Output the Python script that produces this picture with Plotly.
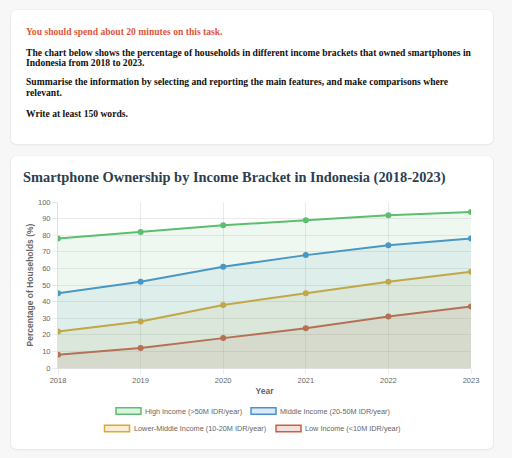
import plotly.graph_objects as go

years = [2018, 2019, 2020, 2021, 2022, 2023]
high_income = [78, 82, 86, 89, 92, 94]
middle_income = [45, 52, 61, 68, 74, 78]
lower_middle_income = [22, 28, 38, 45, 52, 58]
low_income = [8, 12, 18, 24, 31, 37]

series_names = [
    "High Income (>50M IDR/year)",
    "Middle Income (20-50M IDR/year)",
    "Lower-Middle Income (10-20M IDR/year)",
    "Low Income (<10M IDR/year)",
]
series_values = [high_income, middle_income, lower_middle_income, low_income]
line_colors = ["rgb(92,190,110)", "rgb(72,147,205)", "rgb(222,168,52)", "rgb(203,94,70)"]
fill_colors = ["rgba(92,190,110,0.10)", "rgba(72,147,205,0.10)", "rgba(222,168,52,0.10)", "rgba(203,94,70,0.10)"]

W, H = 512, 458
L, R, T, B = 58, 41, 202, 90
PW, PH = W - L - R, H - T - B


def px(x):
    return (x - L) / PW


def py(y):
    return (H - B - y) / PH


def rrect(x0, y0, x1, y1, r):
    def P(x, y):
        return f"{px(x):.5f},{py(y):.5f}"
    s = f"M {P(x0 + r, y0)} L {P(x1 - r, y0)} Q {P(x1, y0)} {P(x1, y0 + r)} "
    s += f"L {P(x1, y1 - r)} Q {P(x1, y1)} {P(x1 - r, y1)} "
    s += f"L {P(x0 + r, y1)} Q {P(x0, y1)} {P(x0, y1 - r)} "
    s += f"L {P(x0, y0 + r)} Q {P(x0, y0)} {P(x0 + r, y0)} Z"
    return s


fig = go.Figure()

for name, vals, lc, fc in reversed(list(zip(series_names, series_values, line_colors, fill_colors))):
    fig.add_trace(go.Scatter(
        x=years, y=vals, name=name, mode="lines+markers",
        line=dict(color=lc, width=2),
        marker=dict(color=lc, size=6),
        fill="tozeroy", fillcolor=fc,
        showlegend=False,
    ))

shapes = []
for (x0, y0, x1, y1) in [(11, 10, 493, 144), (11, 156, 493, 449)]:
    shapes.append(dict(type="path", path=rrect(x0 - 1, y0 - 0.5, x1 + 1, y1 + 1.5, 7), xref="paper", yref="paper",
                       fillcolor="rgba(0,0,0,0.05)", line=dict(width=0), layer="below"))
    shapes.append(dict(type="path", path=rrect(x0, y0, x1, y1, 6), xref="paper", yref="paper",
                       fillcolor="white", line=dict(width=0), layer="below"))

annotations = []
serif = "Liberation Serif"
sans = "Liberation Sans"

annotations.append(dict(text="<b>You should spend about 20 minutes on this task.</b>", x=px(24), y=py(31),
                        xref="paper", yref="paper", xanchor="left", yanchor="middle", showarrow=False,
                        font=dict(family=serif, size=9.6, color="#e0583a")))
body_lines = [
    ("The chart below shows the percentage of households in different income brackets that owned smartphones in", 52),
    ("Indonesia from 2018 to 2023.", 62.5),
    ("Summarise the information by selecting and reporting the main features, and make comparisons where", 82),
    ("relevant.", 92.5),
    ("Write at least 150 words.", 113.5),
]
for txt, yy in body_lines:
    annotations.append(dict(text=f"<b>{txt}</b>", x=px(24), y=py(yy), xref="paper", yref="paper",
                            xanchor="left", yanchor="middle", showarrow=False,
                            font=dict(family=serif, size=9.6, color="#111111")))

annotations.append(dict(text="<b>Smartphone Ownership by Income Bracket in Indonesia (2018-2023)</b>",
                        x=px(21), y=py(177), xref="paper", yref="paper", xanchor="left", yanchor="middle",
                        showarrow=False, font=dict(family=serif, size=14.4, color="#2c3e50")))

legend_items = [
    (0, 116, 411), (1, 251, 411), (2, 104.5, 428.5), (3, 276, 428.5),
]
for idx, bx, by in legend_items:
    shapes.append(dict(type="rect", xref="paper", yref="paper",
                       x0=px(bx), x1=px(bx + 25), y0=py(by - 3.2), y1=py(by + 3.2),
                       line=dict(color=line_colors[idx], width=1.5),
                       fillcolor=fill_colors[idx].replace("0.10", "0.2")))
    annotations.append(dict(text=series_names[idx], x=px(bx + 27), y=py(by), xref="paper", yref="paper",
                            xanchor="left", yanchor="middle", showarrow=False,
                            font=dict(family=sans, size=7.3, color="#666666")))

fig.update_layout(
    width=W, height=H,
    margin=dict(l=L, r=R, t=T, b=B, pad=0),
    paper_bgcolor="#f7f7f7",
    plot_bgcolor="rgba(0,0,0,0)",
    shapes=shapes,
    annotations=annotations,
    showlegend=False,
    xaxis=dict(
        range=[2018, 2023], tickmode="array", tickvals=years, ticktext=[str(y) for y in years],
        showgrid=True, gridcolor="rgba(0,0,0,0.08)", gridwidth=1,
        ticks="outside", ticklen=5, tickcolor="rgba(0,0,0,0.08)",
        showline=True, linecolor="rgba(0,0,0,0.12)", linewidth=1,
        zeroline=False,
        tickfont=dict(family=sans, size=7.5, color="#666666"),
        title=dict(text="<b>Year</b>", font=dict(family=sans, size=8.5, color="#666666"), standoff=4),
    ),
    yaxis=dict(
        range=[0, 100], tickmode="linear", tick0=0, dtick=10,
        showgrid=True, gridcolor="rgba(0,0,0,0.08)", gridwidth=1,
        ticks="outside", ticklen=5, tickcolor="rgba(0,0,0,0.08)",
        showline=True, linecolor="rgba(0,0,0,0.12)", linewidth=1,
        zeroline=False,
        tickfont=dict(family=sans, size=7.5, color="#666666"),
        title=dict(text="<b>Percentage of Households (%)</b>", font=dict(family=sans, size=8.5, color="#666666"),
                   standoff=3),
    ),
)

fig.write_html("out.html", config={"displayModeBar": False},
               post_script="document.body.style.margin='0';document.body.style.background='#f7f7f7';")
